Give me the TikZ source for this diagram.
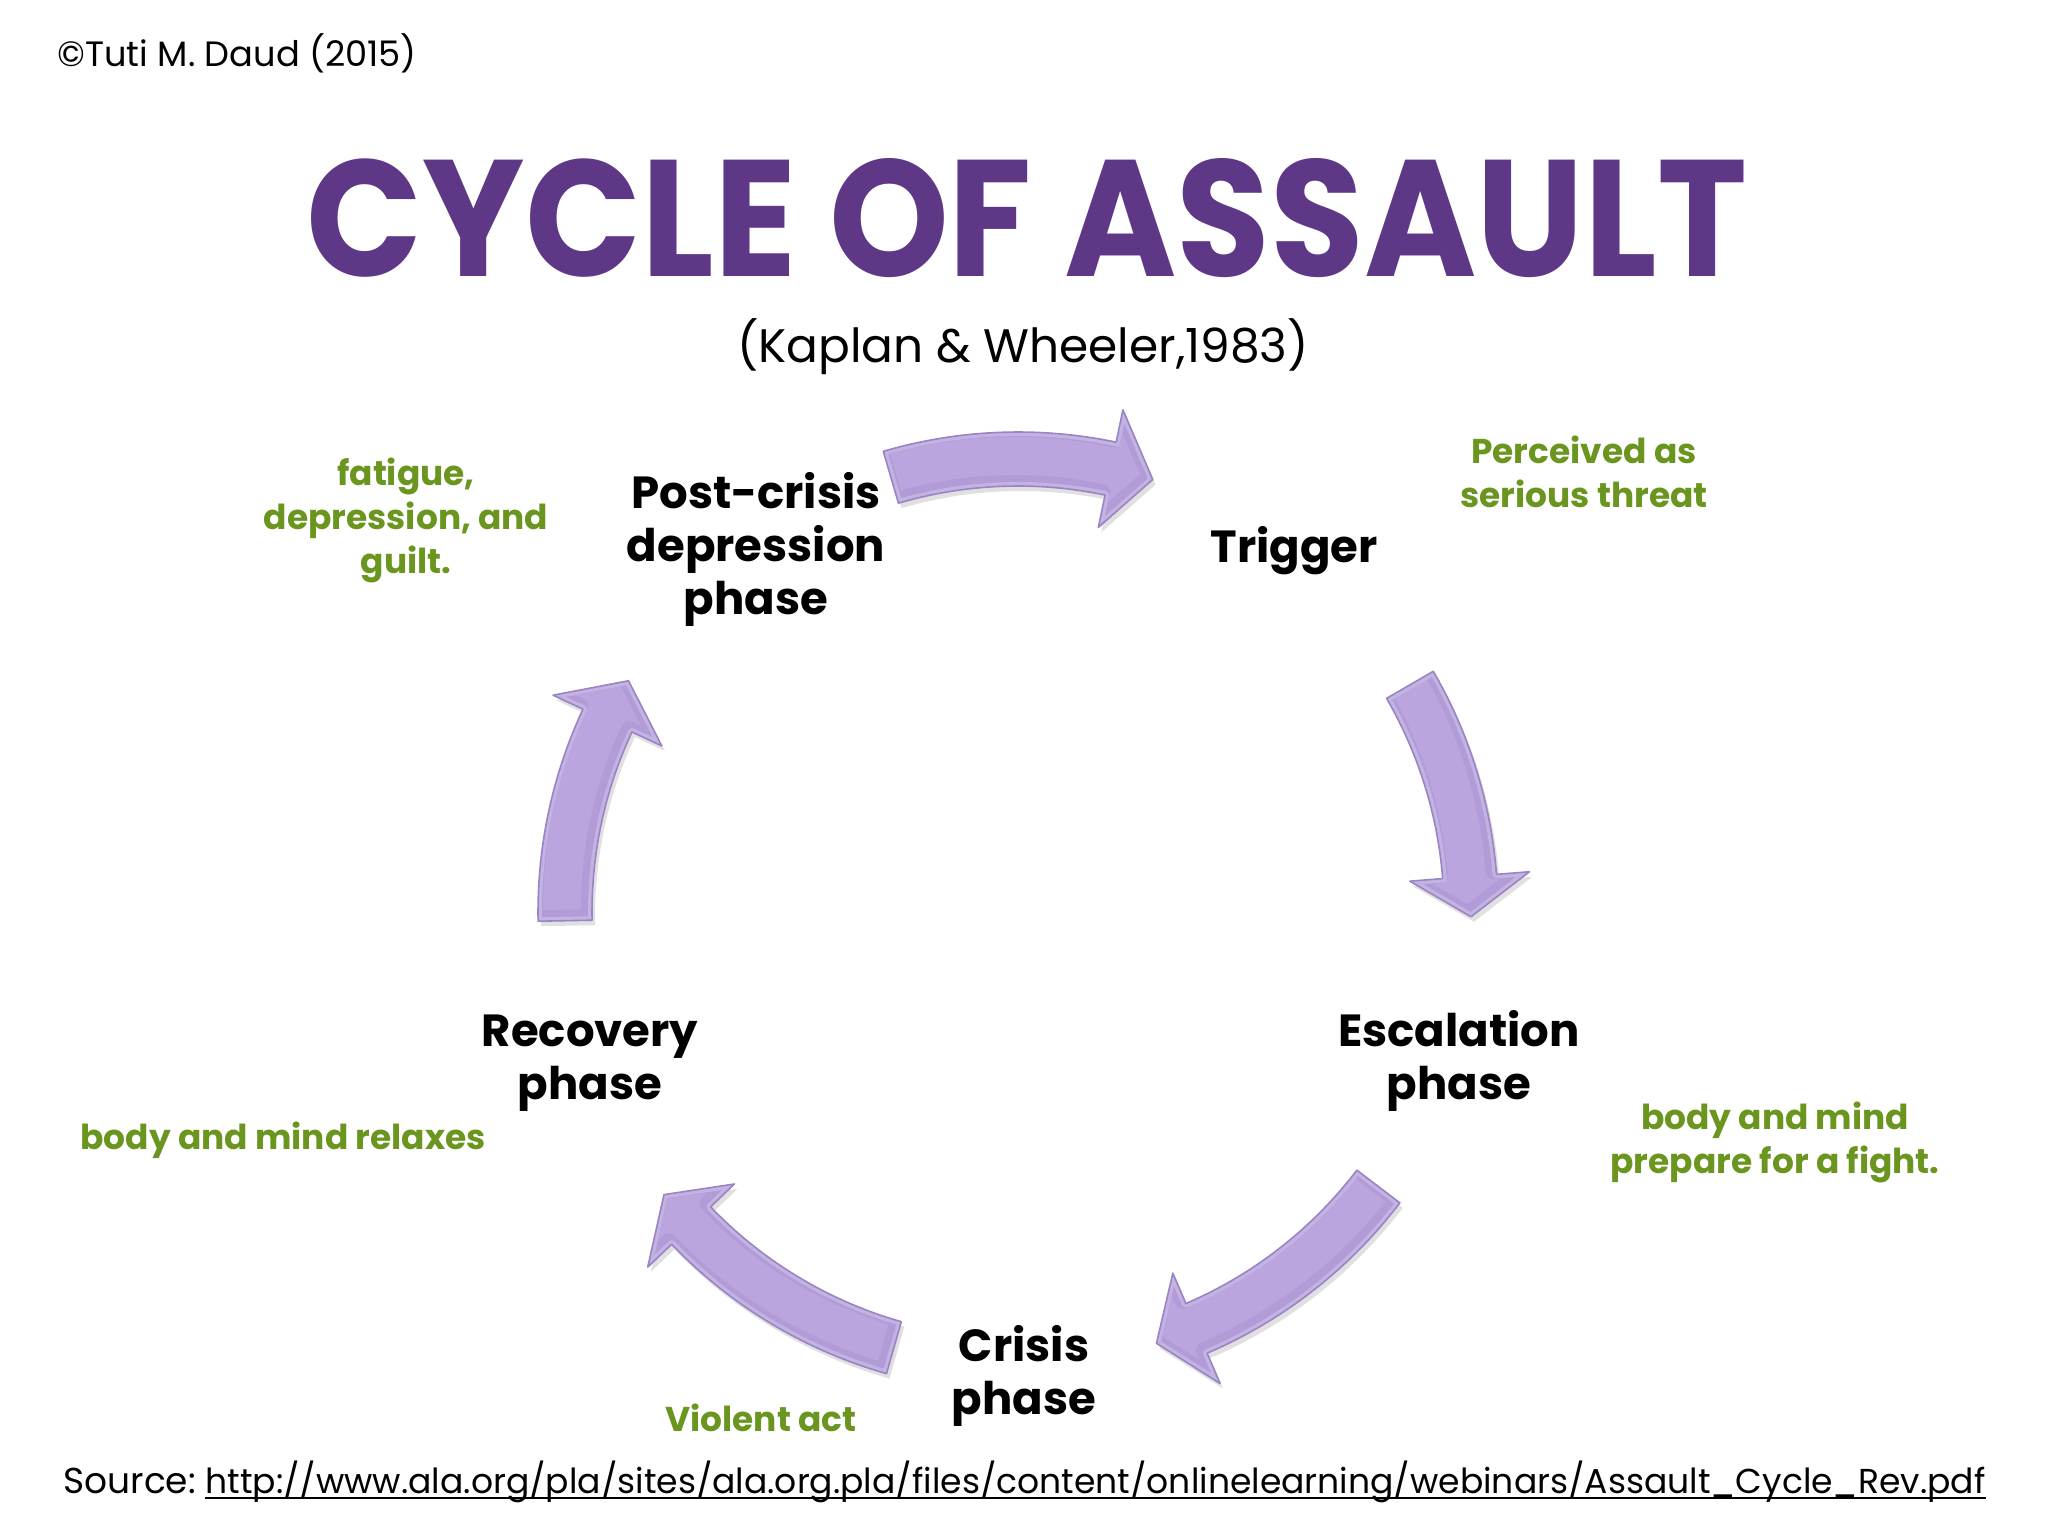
\documentclass[tikz,border=0pt]{standalone}
\usepackage{fontspec}
\setmainfont{Poppins}
\usepackage{graphicx}
\definecolor{titlepurple}{HTML}{5F3787}
\definecolor{labelgreen}{HTML}{6A961F}
\definecolor{arrowfill}{HTML}{BAA5DF}
\definecolor{arrowedge}{HTML}{9A83C6}
\def\CX{1018}
\def\CY{912}
\def\RR{453}
\def\WW{27}
\def\HW{60}
\newcommand{\arrowoutline}[3]{%
  plot[domain=#1:#2,samples=40] ({\CX+(\RR+\WW)*cos(\x)},{\CY+(\RR+\WW)*sin(\x)})
  -- ({\CX+(\RR+\HW)*cos(#2)},{\CY+(\RR+\HW)*sin(#2)})
  -- ({\CX+\RR*cos(#3)},{\CY+\RR*sin(#3)})
  -- ({\CX+(\RR-\HW)*cos(#2)},{\CY+(\RR-\HW)*sin(#2)})
  -- plot[domain=#2:#1,samples=40] ({\CX+(\RR-\WW)*cos(\x)},{\CY+(\RR-\WW)*sin(\x)})
  -- cycle}
\newcommand{\cyclearrow}[3]{%
  \fill[black, opacity=0.12, shift={(3,5)}] \arrowoutline{#1}{#2}{#3};
  \fill[arrowfill] \arrowoutline{#1}{#2}{#3};
  \begin{scope}
    \clip \arrowoutline{#1}{#2}{#3};
    \draw[white, opacity=0.35, line width=4pt, line join=round] \arrowoutline{#1}{#2}{#3};
    \draw[arrowedge, opacity=0.25, line width=8pt, line join=round, shift={(-3,-3)}] \arrowoutline{#1}{#2}{#3};
  \end{scope}
  \draw[arrowedge, line width=0.8pt, line join=round] \arrowoutline{#1}{#2}{#3};
}
\tikzset{
  phase/.style={font=\bfseries\fontsize{22.5}{26.5}\selectfont, align=center, inner sep=0pt, text=black},
  note/.style={font=\bfseries\fontsize{17.2}{22}\selectfont, align=center, inner sep=0pt, text=labelgreen},
  plain/.style={inner sep=0pt, text=black}
}
\begin{document}
\begin{tikzpicture}[x=0.5pt,y=-0.5pt]
\useasboundingbox (0,0) rectangle (2048,1536);
\fill[white] (0,0) rectangle (2048,1536);

% arrows
\cyclearrow{-106.3}{-78.2}{-72.7}
\cyclearrow{-30.1}{-4.5}{0.6}
\cyclearrow{37.3}{66.8}{72.2}
\cyclearrow{105.9}{136.2}{141.4}
\cyclearrow{178.9}{205}{210.7}

% header
\node[plain, anchor=base west, font=\fontsize{17.6}{20}\selectfont] (copy) at (57,67) {©Tuti M. Daud (2015)};
\node[plain, anchor=base, text=titlepurple, font=\bfseries] (title) at (1027,276) {\resizebox{720pt}{59pt}{CYCLE OF ASSAULT}};
\node[plain, anchor=base, font=\fontsize{23.5}{28}\selectfont] (cite) at (1023,362) {(Kaplan \& Wheeler,1983)};

% phases
\node[phase] (post) at (756,549) {Post-crisis\\depression\\phase};
\node[phase, anchor=base] (trigger) at (1294,562) {Trigger};
\node[phase] (escal) at (1459,1061) {Escalation\\phase};
\node[phase] (crisis) at (1024,1376) {Crisis\\phase};
\node[phase] (recov) at (590,1063) {Recovery\\phase};

% notes
\node[note] (fatigue) at (406,520) {fatigue,\\depression, and\\guilt.};
\node[note] (threat) at (1584,472) {Perceived as\\serious threat};
\node[note] (fight) at (1775,1142) {body and mind\\prepare for a fight.};
\node[note, anchor=base west] (relax) at (80,1149) {body and mind relaxes};
\node[note, anchor=base west] (violent) at (665,1431) {Violent act};

% source
\node[plain, anchor=base west, font=\fontsize{18}{22}\selectfont] (srclabel) at (63,1493) {Source:};
\node[plain, anchor=base west, font=\fontsize{18}{22}\selectfont] (url) at (205,1493) {\resizebox{890pt}{!}{http://www.ala.org/pla/sites/ala.org.pla/files/content/onlinelearning/webinars/Assault\_Cycle\_Rev.pdf}};
\draw[line width=1pt] ([yshift=-2.5pt]url.base west) -- ([yshift=-2.5pt]url.base east);
\end{tikzpicture}
\end{document}
